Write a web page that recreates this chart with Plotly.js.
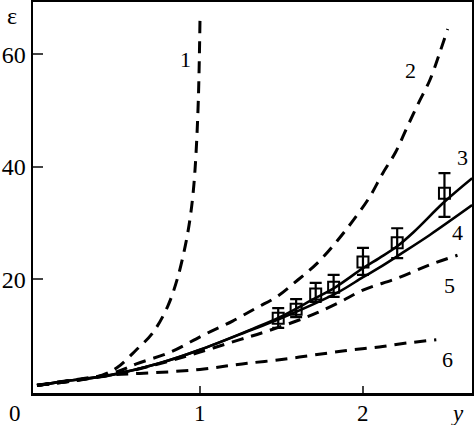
<!DOCTYPE html>
<html><head><meta charset="utf-8">
<script src="https://cdn.plot.ly/plotly-3.0.1.min.js"></script>
<style>html,body{margin:0;padding:0;background:#fff}#chart{width:474px;height:425px}</style>
</head><body><div id="chart"></div>
<script>
// curve 1 (dashed)
const c1x = [0, 0.2, 0.4, 0.49, 0.61, 0.71, 0.8, 0.86, 0.91, 0.94, 0.96, 0.975, 0.99, 1.0];
const c1y = [1.2, 1.9, 3.0, 4.3, 7.5, 10.5, 15.1, 20, 26, 31, 36, 42, 52, 66];
// curve 2 (dashed)
const c2x = [0, 0.3, 0.5, 0.61, 0.82, 1.02, 1.2, 1.35, 1.47, 1.6, 1.72, 1.84, 1.94, 2.04, 2.12, 2.2, 2.27, 2.34, 2.41, 2.47, 2.52];
const c2y = [1.2, 2.3, 3.7, 5.0, 7.1, 10.1, 12.6, 15.0, 16.9, 19.9, 22.9, 26.8, 30.5, 34.6, 38.8, 42.6, 47, 51.3, 55.4, 60.2, 64.5];
// curve 3 (solid)
const c3x = [0, 0.14, 0.45, 0.75, 1.0, 1.33, 1.49, 1.69, 1.83, 2.0, 2.10, 2.21, 2.31, 2.50, 2.67];
const c3y = [1.1, 1.8, 3.0, 5.1, 7.5, 11.3, 13.3, 16.4, 18.6, 22.0, 23.8, 25.9, 28.4, 33.8, 38.0];
// curve 4 (solid)
const c4x = [0, 0.14, 0.45, 0.75, 1.0, 1.33, 1.49, 1.84, 2.0, 2.10, 2.23, 2.41, 2.67];
const c4y = [1.1, 1.8, 3.0, 5.1, 7.5, 11.2, 13.0, 17.6, 20.4, 22.1, 24.5, 27.9, 33.2];
// curve 5 (dashed)
const c5x = [0, 0.45, 0.75, 1.0, 1.245, 1.39, 1.6, 1.72, 1.86, 2.0, 2.21, 2.41, 2.58];
const c5y = [1.2, 3.0, 5.0, 7.1, 9.3, 10.6, 12.7, 14.1, 16.0, 18.1, 20.2, 22.6, 24.3];
// curve 6 (dashed)
const c6x = [0, 0.45, 0.63, 0.82, 1.0, 1.16, 1.29, 1.45, 1.61, 1.78, 1.94, 2.1, 2.27, 2.45];
const c6y = [1.2, 3.0, 3.3, 3.6, 4.0, 4.6, 5.1, 5.6, 6.2, 6.9, 7.5, 8.0, 8.7, 9.3];
// experimental points
const px = [1.48, 1.59, 1.71, 1.82, 2.0, 2.21, 2.50];
const py = [13.1, 14.7, 17.4, 18.6, 23.1, 26.5, 35.3];
const errUp = [1.8, 1.8, 2.0, 2.2, 2.5, 2.6, 3.6];
const errDn = [1.7, 1.4, 1.4, 1.7, 2.3, 2.7, 4.2];
const curveLabels = ['1', '2', '3', '4', '5', '6'];
const labelX = [0.91, 2.29, 2.61, 2.58, 2.53, 2.52];
const labelY = [59, 57.2, 41.7, 28.4, 19, 5.7];
const xTickVals = [1, 2];
const xTickText = ['1', '2'];
const yTickVals = [20, 40, 60];
const yTickText = ['20', '40', '60'];

const serif = 'Liberation Serif, Times New Roman, serif';
const dashed = () => ({color: '#000', width: 3, dash: '12px,8px', shape: 'spline'});
const solid = () => ({color: '#000', width: 2.6, shape: 'spline'});
const traces = [
  {x: c1x, y: c1y, mode: 'lines', line: dashed()},
  {x: c2x, y: c2y, mode: 'lines', line: dashed()},
  {x: c3x, y: c3y, mode: 'lines', line: solid()},
  {x: c4x, y: c4y, mode: 'lines', line: solid()},
  {x: c5x, y: c5y, mode: 'lines', line: dashed()},
  {x: c6x, y: c6y, mode: 'lines', line: dashed()},
  {x: px, y: py, mode: 'markers',
   marker: {symbol: 'square-open', size: 11, color: '#000', line: {width: 2, color: '#000'}},
   error_y: {type: 'data', symmetric: false, array: errUp, arrayminus: errDn, color: '#000', thickness: 2.2, width: 6}}
];

const font = {family: serif, size: 24, color: '#000'};
const lblFont = {family: serif, size: 22, color: '#000'};
const annotations = curveLabels.map((t, i) => ({
  x: labelX[i], y: labelY[i], text: t, showarrow: false, font: lblFont, xanchor: 'center', yanchor: 'middle'
}));
xTickVals.forEach((v, i) => annotations.push({
  x: v, xref: 'x', yref: 'paper', y: -0.0185, text: xTickText[i], showarrow: false,
  font: {family: serif, size: 23, color: '#000'}, xanchor: 'center', yanchor: 'top', borderpad: 0
}));
annotations.push({xref: 'paper', yref: 'paper', x: -0.033, y: 0.965, text: 'ε', showarrow: false, font: font, xanchor: 'right', yanchor: 'middle'});
annotations.push({xref: 'paper', yref: 'paper', x: -0.025, y: -0.0185, text: '0', showarrow: false, font: {family: serif, size: 23, color: '#000'}, xanchor: 'right', yanchor: 'top', borderpad: 0});
annotations.push({xref: 'paper', yref: 'paper', x: 0.968, y: -0.0185, text: '<i>y</i>', showarrow: false, font: {family: serif, size: 23, color: '#000'}, xanchor: 'center', yanchor: 'top', borderpad: 0});

const layout = {
  width: 474, height: 425,
  margin: {l: 33, r: 2, t: 2, b: 32},
  paper_bgcolor: '#fff', plot_bgcolor: '#fff',
  showlegend: false,
  font: font,
  xaxis: {range: [-0.0245, 2.669], tickvals: xTickVals, showticklabels: false, ticks: 'inside', ticklen: 7, tickwidth: 2,
          showgrid: false, zeroline: false, showline: true, linewidth: 2.5, linecolor: '#000', mirror: true},
  yaxis: {range: [-0.18, 69.3], tickvals: yTickVals, ticktext: yTickText, ticks: 'inside', ticklen: 10, tickwidth: 2,
          showgrid: false, zeroline: false, showline: true, linewidth: 2.5, linecolor: '#000', mirror: true, tickfont: font},
  annotations: annotations
};
Plotly.newPlot('chart', traces, layout, {staticPlot: true});
</script></body></html>
